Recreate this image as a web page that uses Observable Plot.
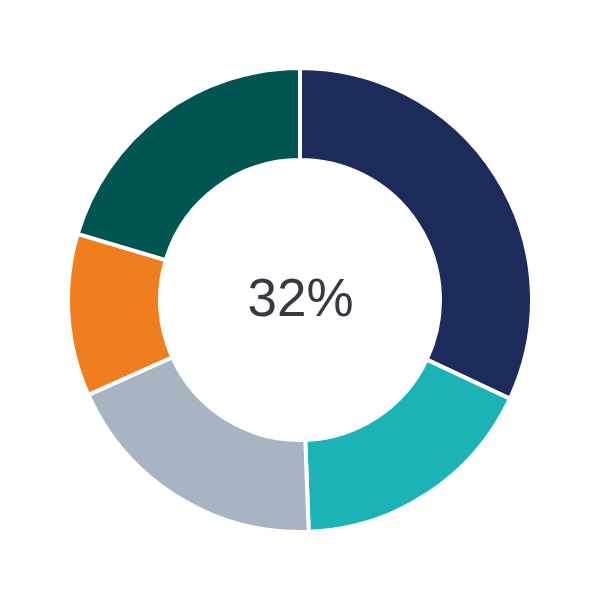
<!DOCTYPE html>
<html><head><meta charset="utf-8">
<script src="https://cdn.jsdelivr.net/npm/d3@7"></script>
<script src="https://cdn.jsdelivr.net/npm/@observablehq/plot@0.6"></script>
<style>body{margin:0;background:#fff}</style>
</head><body><div id="chart"></div>
<script>
const categories = ["A", "B", "C", "D", "E"];
const values = [32, 17.4, 18.9, 11.3, 20.4];
const colors = ["#1c2b5a", "#1bb3b5", "#a9b4c2", "#f07e1f", "#005452"];
const centerLabel = "32%";

const data = categories.map((c, i) => ({category: c, value: values[i]}));
const color = d3.scaleOrdinal(categories, colors);

function donut(index, scales, channels, dims) {
  const cx = scales.x(0), cy = scales.y(0);
  const outer = scales.x(232) - cx, inner = scales.x(140) - cx;
  const pie = d3.pie().sort(null).value(d => d.value)(data);
  const arc = d3.arc().innerRadius(inner).outerRadius(outer);
  const g = d3.create("svg:g").attr("transform", `translate(${cx},${cy})`);
  g.selectAll("path").data(pie).join("path")
    .attr("d", arc)
    .attr("fill", d => color(d.data.category))
    .attr("stroke", "#fff")
    .attr("stroke-width", 4)
    .attr("stroke-linejoin", "round");
  return g.node();
}

const chart = Plot.plot({
  width: 600, height: 600,
  margin: 0,
  axis: null,
  x: {domain: [-300, 300]},
  y: {domain: [300, -300]},
  marks: [
    donut,
    Plot.text([centerLabel], {x: () => 0, y: () => 0, text: d => d, fontSize: 53, fill: "#373a40",
      fontFamily: "Liberation Sans, Arial, sans-serif", textAnchor: "middle", lineAnchor: "middle", dy: -1})
  ]
});
document.getElementById("chart").appendChild(chart);
</script></body></html>
